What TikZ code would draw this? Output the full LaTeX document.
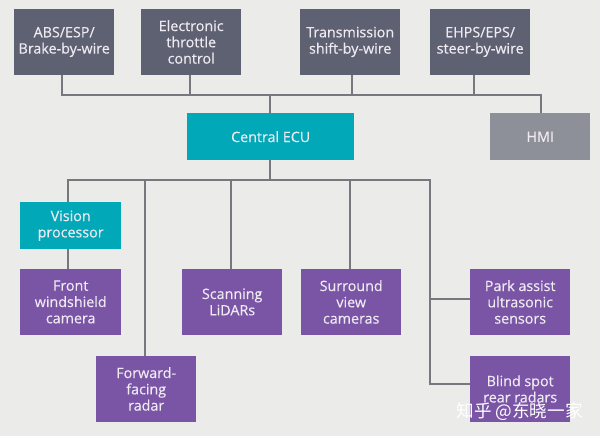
\documentclass[tikz,border=0pt]{standalone}
\usepackage{fontspec}
\setmainfont{Open Sans}[FakeBold=0.35]
\newfontfamily\bodyfont{Open Sans}[FakeBold=0.35]
\newfontfamily\cjkfont{Noto Sans CJK SC}
\definecolor{bgc}{HTML}{EBEBEA}
\definecolor{slatec}{HTML}{5E6172}
\definecolor{hmic}{HTML}{8E9099}
\definecolor{tealc}{HTML}{00A8B8}
\definecolor{purplec}{HTML}{7A55A6}
\definecolor{linec}{HTML}{77777E}
\definecolor{txtc}{HTML}{EFEAF2}
\tikzset{
  x=1pt,y=-1pt,
  box/.style={anchor=north west,inner sep=0pt,minimum width=100pt,minimum height=65.5pt,align=center,text=txtc,
    font=\bodyfont\fontsize{14.3}{16.3}\selectfont},
  ecubox/.style={box,fill=slatec},
  sensor/.style={box,fill=purplec},
  wire/.style={draw=linec,line width=2pt},
}
\begin{document}
\begin{tikzpicture}
\useasboundingbox[fill=bgc] (0,0) rectangle (600,436);
% top row
\node[ecubox] (abs) at (14,9) {ABS/ESP/\\Brake-by-wire};
\node[ecubox] (etc) at (141,9) {Electronic\\throttle\\control};
\node[ecubox] (trans) at (300,9) {Transmission\\shift-by-wire};
\node[ecubox] (ehps) at (430,9) {EHPS/EPS/\\steer-by-wire};
% middle
\node[box,fill=tealc,minimum width=167pt,minimum height=47pt] (ecu) at (187,113) {Central ECU};
\node[box,fill=hmic,minimum height=47pt] (hmi) at (490,113) {HMI};
\node[box,fill=tealc,minimum width=101pt,minimum height=47pt] (vis) at (20,202) {Vision\\processor};
% sensors
\node[sensor,minimum width=101pt] (front) at (20,269) {Front\\windshield\\camera};
\node[sensor] (radar) at (96,356) {Forward-\\facing\\radar};
\node[sensor] (lidar) at (182,269) {Scanning\\LiDARs};
\node[sensor] (surr) at (301,269) {Surround\\view\\cameras};
\node[sensor] (park) at (470,269) {Park assist\\ultrasonic\\sensors};
\node[sensor] (blind) at (470,356) {Blind spot\\rear radars};
% bus coordinates
\coordinate (t1) at (61.5,95);
\coordinate (t2) at (190,95);
\coordinate (t3) at (269.5,95);
\coordinate (t4) at (352,95);
\coordinate (t5) at (474,95);
\coordinate (t6) at (541,95);
\coordinate (b1) at (68,180);
\coordinate (b2) at (145,180);
\coordinate (b3) at (231,180);
\coordinate (b4) at (269.5,180);
\coordinate (b5) at (349.5,180);
\coordinate (b6) at (429.5,180);
\coordinate (s1) at (429.5,298.5);
\coordinate (s2) at (429.5,384);
% wires
\draw[wire,line join=miter] (abs.south -| t1) -- (t1) -- (t6) -- (hmi.north -| t6);
\draw[wire] (etc.south -| t2) -- (t2);
\draw[wire] (t3) -- (ecu.north -| t3);
\draw[wire] (trans.south -| t4) -- (t4);
\draw[wire] (ehps.south -| t5) -- (t5);
\draw[wire] (ecu.south -| b4) -- (b4);
\draw[wire,line join=miter] (vis.north -| b1) -- (b1) -- (b6) -- (s2) -- (blind.west |- s2);
\draw[wire] (vis.south -| b1) -- (front.north -| b1);
\draw[wire] (b2) -- (radar.north -| b2);
\draw[wire] (b3) -- (lidar.north -| b3);
\draw[wire] (b5) -- (surr.north -| b5);
\draw[wire] (s1) -- (park.west |- s1);
% watermark
\node[inner sep=0pt,text=white,font=\cjkfont\fontsize{17.6}{19}\selectfont] (wm) at (519.5,412) {知乎 @东晓一家};
\end{tikzpicture}
\end{document}
